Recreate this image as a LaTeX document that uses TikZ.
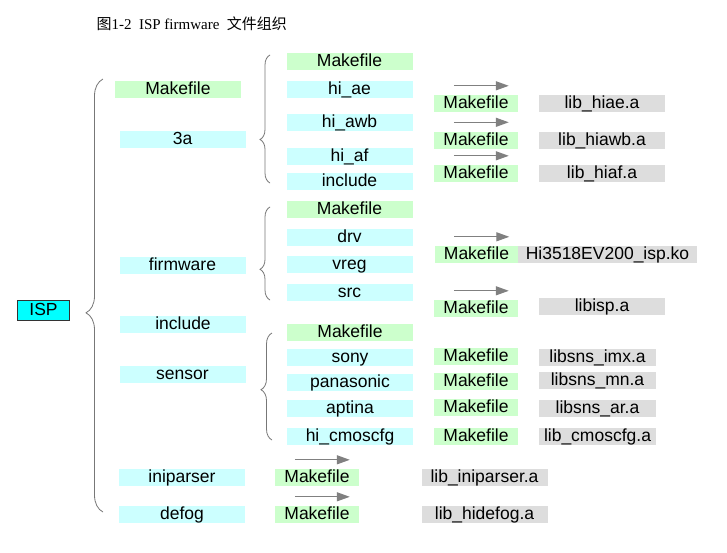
\documentclass[tikz,border=0pt]{standalone}
\usepackage{fontspec}
\setmainfont{Liberation Serif}
\setsansfont{Liberation Sans}
\newfontfamily\cjk{Noto Sans CJK SC}
\usepackage{tikz}
\usetikzlibrary{arrows.meta,decorations.pathreplacing}

\definecolor{dircyan}{HTML}{CCFFFF}
\definecolor{mkgreen}{HTML}{CCFFCC}
\definecolor{libgray}{HTML}{DDDDDD}
\definecolor{ispcyan}{HTML}{00FFFF}
\definecolor{ispborder}{HTML}{333333}
\definecolor{bracegray}{HTML}{777777}
\definecolor{arrowgray}{HTML}{808080}

\begin{document}
\begin{tikzpicture}[x=1pt, y=-1pt,
    box/.style = {inner sep=0pt, minimum height=17pt, text height=13.5pt, text depth=3.5pt,
        font=\sffamily\fontsize{17.5}{21}\selectfont},
    dir/.style = {box, fill=dircyan, minimum width=126pt},
    mk/.style = {box, fill=mkgreen, minimum width=84pt},
    lib/.style = {box, fill=libgray, minimum width=126pt},
    tree/.style = {draw=bracegray, line width=0.8pt, decorate, decoration={brace, amplitude=#1}},
    build/.style = {draw=arrowgray, line width=1.3pt, -{Triangle[length=13pt,width=9pt]}}]
\path[fill=white,use as bounding box] (0,0) rectangle (727,552);

\node[anchor=base west, font=\fontsize{15}{18}\selectfont] (title) at (93,29)
    {{\cjk 图}1-2\ \ ISP firmware\ \ {\cjk 文件组织}};

% root
\node[box, fill=ispcyan, draw=ispborder, line width=0.8pt, minimum width=52pt, minimum height=20pt]
    (isp) at (43.5,310.5) {ISP};

% first level
\node[mk, minimum width=126pt] (mktop) at (178,89.5) {Makefile};
\node[dir] (d3a) at (182.5,139.5) {3a};
\node[dir] (firmware) at (182.5,265.5) {firmware};
\node[dir] (include) at (183,324.5) {include};
\node[dir] (sensor) at (182.5,374.5) {sensor};
\node[dir] (iniparser) at (182,477.5) {iniparser};
\node[dir] (defog) at (182,514.5) {defog};

% 3a
\node[mk, minimum width=126pt] (mk3a) at (349.5,61) {Makefile};
\node[dir] (hiae) at (349.5,89.5) {hi\_ae};
\node[dir] (hiawb) at (349.5,122.5) {hi\_awb};
\node[dir] (hiaf) at (349.5,156.5) {hi\_af};
\node[dir] (inc3a) at (349.5,181.5) {include};

% firmware
\node[mk, minimum width=126pt] (mkfw) at (349.5,209.5) {Makefile};
\node[dir] (drv) at (349.5,237.5) {drv};
\node[dir] (vreg) at (349.5,264.5) {vreg};
\node[dir] (src) at (349.5,292.5) {src};

% sensor
\node[mk, minimum width=126pt] (mksns) at (350,332.5) {Makefile};
\node[dir] (sony) at (350,357.5) {sony};
\node[dir] (panasonic) at (350,382.5) {panasonic};
\node[dir] (aptina) at (350,408.5) {aptina};
\node[dir] (cmoscfg) at (350,436) {hi\_cmoscfg};

% build outputs
\node[mk] (mkae) at (476,103.5) {Makefile};
\node[mk] (mkawb) at (476,140) {Makefile};
\node[mk] (mkaf) at (476,173.5) {Makefile};
\node[mk] (mkdrv) at (476.5,254.5) {Makefile};
\node[mk] (mkisp) at (476,308.5) {Makefile};
\node[mk] (mksony) at (476,356.5) {Makefile};
\node[mk] (mkpana) at (476,381.5) {Makefile};
\node[mk] (mkapt) at (476,407.5) {Makefile};
\node[mk] (mkcmos) at (476,436) {Makefile};
\node[mk] (mkini) at (317,477.5) {Makefile};
\node[mk] (mkfog) at (317,514.5) {Makefile};

\node[lib] (libae) at (602,103.5) {lib\_hiae.a};
\node[lib] (libawb) at (602,140) {lib\_hiawb.a};
\node[lib] (libaf) at (602,173.5) {lib\_hiaf.a};
\node[lib, minimum width=179pt] (libko) at (607.5,254.5) {Hi3518EV200\_isp.ko};
\node[lib] (libisp) at (602,306.5) {libisp.a};
\node[lib, minimum width=117pt] (libimx) at (597.5,357.5) {libsns\_imx.a};
\node[lib, minimum width=117pt] (libmn) at (597.5,380.5) {libsns\_mn.a};
\node[lib, minimum width=117pt] (libar) at (597.5,408.5) {libsns\_ar.a};
\node[lib, minimum width=117pt] (libcmos) at (597.5,436.5) {lib\_cmoscfg.a};
\node[lib] (libini) at (484.5,477.5) {lib\_iniparser.a};
\node[lib] (libfog) at (484.5,514.5) {lib\_hidefog.a};

% braces
\coordinate (ispLow) at (103,512);
\coordinate (ispHigh) at (103,79);
\coordinate (d3aLow) at (270,183);
\coordinate (d3aHigh) at (270,55);
\coordinate (fwLow) at (270,300);
\coordinate (fwHigh) at (270,207);
\coordinate (snsLow) at (272,440);
\coordinate (snsHigh) at (272,333);
\draw[tree=17pt, decoration={aspect=0.46}] (ispLow) -- (ispHigh);
\draw[tree=10pt, decoration={aspect=0.34}] (d3aLow) -- (d3aHigh);
\draw[tree=10pt, decoration={aspect=0.33}] (fwLow) -- (fwHigh);
\draw[tree=11pt, decoration={aspect=0.47}] (snsLow) -- (snsHigh);

% arrows over the Makefiles
\foreach \m in {mkae,mkawb,mkaf,mkdrv,mkisp,mkini,mkfog}
    \draw[build] ([shift={(20pt,9pt)}]\m.north west) -- ++(55,0);
\end{tikzpicture}
\end{document}
